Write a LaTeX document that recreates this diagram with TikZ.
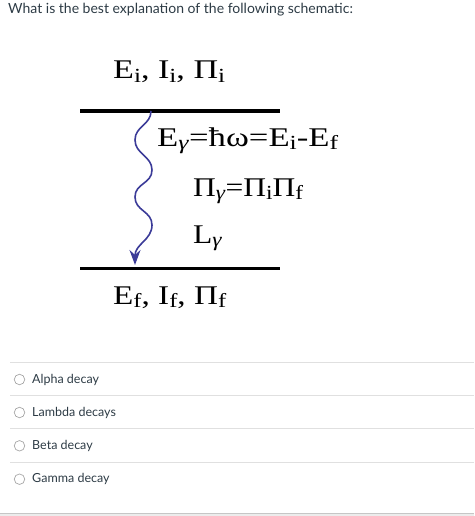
\documentclass[tikz,border=0pt]{standalone}
\usepackage{fontspec}
\setmainfont{Liberation Serif}
\newfontfamily\latofont{Lato}
\usepackage{graphicx}
\usepackage{xcolor}
\usetikzlibrary{arrows.meta,positioning}
\definecolor{canvastext}{HTML}{2D3B45}
\definecolor{photonblue}{HTML}{3B3B98}
\definecolor{rulegray}{HTML}{E0E0E0}
\tikzset{>={Stealth[length=15pt,width=11pt]}}

% stretch a formula to a given width, height kept
\newcommand{\wide}[2]{\resizebox{#1pt}{\height}{#2}}
\newcommand{\lo}[1]{\raisebox{-3pt}{\fontsize{20}{20}\selectfont #1}}

\begin{document}
\begin{tikzpicture}[x=1pt,y=-1pt,
                    level/.style={line width=3.2pt, black},
                    photon/.style={line width=1.6pt, photonblue, ->},
                    eq/.style={anchor=base west, inner sep=0pt, font=\fontsize{27}{27}\selectfont},
                    ui/.style={anchor=base west, inner sep=0pt, text=canvastext, font=\latofont\fontsize{12.5}{15}\selectfont},
                    sep/.style={rulegray, line width=1pt},
                    radio/.style={circle, draw=gray!70, line width=0.7pt, minimum size=10.5pt, inner sep=0pt},
                   ]

\useasboundingbox (0,0) rectangle (474,516);

\node[ui, font=\latofont\fontsize{14}{17}\selectfont] (question) at (8,13.5) {What is the best explanation of the following schematic:};

% energy levels
\coordinate (iL) at (80,111);
\coordinate (iR) at (280,111);
\coordinate (fL) at (80,268.5);
\coordinate (fR) at (280,268.5);
\draw[level] (iL) -- (iR);
\draw[level] (fL) -- (fR);

\node[eq] (initial) at (113,79) {\wide{112}{E\lo{i}, I\lo{i}, Π\lo{i}}};
\node[eq] (final) at (113,304) {\wide{113}{E\lo{f}, I\lo{f}, Π\lo{f}}};

\node[eq] (energy) at (157,146) {\wide{181}{E\lo{\textit{γ}}=ħω=E\lo{i}-E\lo{f}}};
\node[eq] (parity) at (193,196) {\wide{110}{Π\lo{\textit{γ}}=Π\lo{i}Π\lo{f}}};
\node[eq] (mult) at (193,243) {\wide{29}{L\lo{\textit{γ}}}};

% photon
\coordinate (emit) at (151,111);
\coordinate (absorb) at (135,265);
\draw[photon] (emit) .. controls (151,125) and (135,126) .. (135,140)
                     .. controls (135,154) and (152,156) .. (152,170)
                     .. controls (152,184) and (135,183) .. (135,197)
                     .. controls (135,211) and (152,211) .. (152,225)
                     .. controls (152,240) and (135,244) .. (absorb);

% answers
\foreach \y/\txt [count=\k] in {383/Alpha decay, 416/Lambda decays, 449.3/Beta decay, 482.7/Gamma decay}{
  \draw[sep] (10,\y-20.5) -- (474,\y-20.5);
  \node[ui] (opt\k) at (32,\y) {\txt};
  \node[radio] (radio\k) at (19.5,\y-3.5) {};
}

\fill[gray!15] (0,513) rectangle (474,516);
\draw[gray!45, line width=0.8pt] (0,513) -- (474,513);

\end{tikzpicture}
\end{document}
